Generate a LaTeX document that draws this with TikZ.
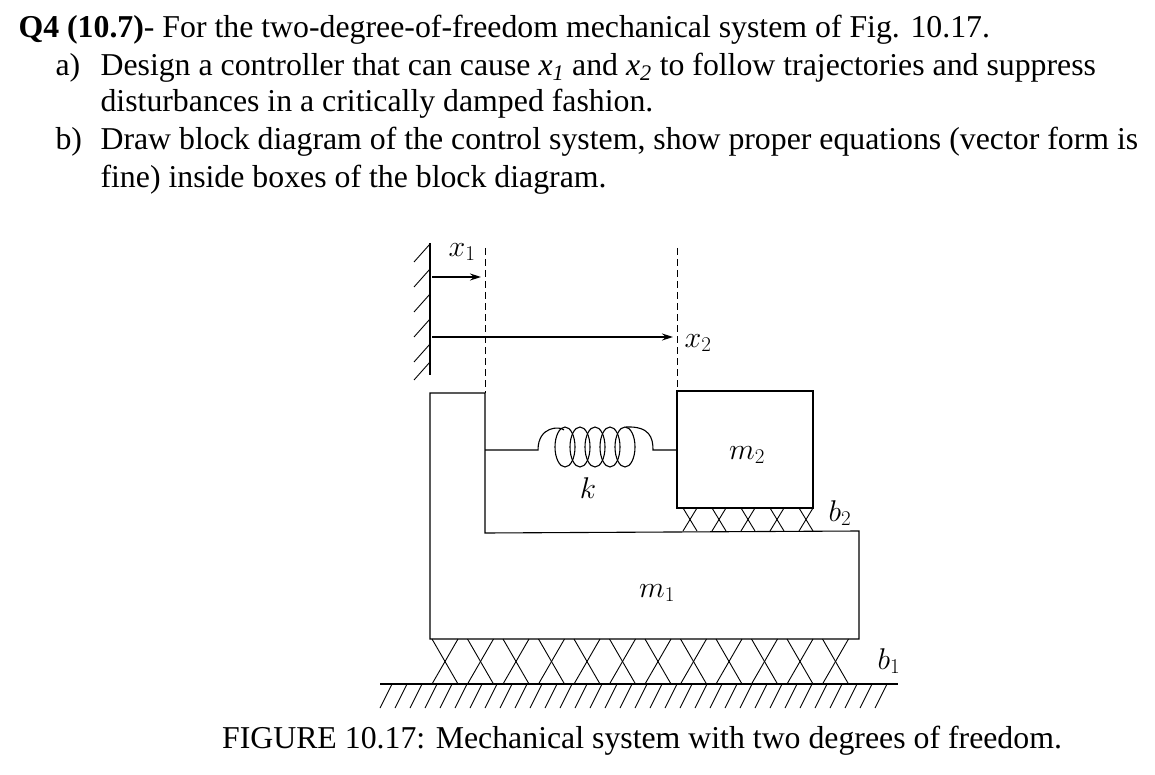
\documentclass[tikz,border=0pt]{standalone}
\usepackage{fix-cm}
\usepackage{fontspec}
\setmainfont{Liberation Serif}
\usetikzlibrary{arrows.meta}
\begin{document}
\begin{tikzpicture}[x=1pt,y=-1pt,line width=1.1pt,
  txt/.style={anchor=west,inner sep=0pt,font=\fontsize{31.8}{36}\selectfont},
  lab/.style={inner sep=0pt,font=\fontsize{30}{34}\selectfont},
  dsh/.style={dashed,dash pattern=on 7pt off 4pt,line width=0.8pt},
  hat/.style={line width=0.9pt}]
\useasboundingbox (0,0) rectangle (1155,775);
\newcommand{\myxi}[1]{\textit{x}\textsubscript{\textit{#1}}}
\node[txt] (l1) at (18,30) {\textbf{Q4 (10.7)}- For the two-degree-of-freedom mechanical system of Fig. 10.17.};
\node[txt] (l2) at (55,68) {a)};
\node[txt] (l2b) at (100,68) {Design a controller that can cause \myxi{1} and \myxi{2} to follow trajectories and suppress};
\node[txt] (l3) at (100,104) {disturbances in a critically damped fashion.};
\node[txt] (l4) at (55,142) {b)};
\node[txt] (l4b) at (100,142) {Draw block diagram of the control system, show proper equations (vector form is};
\node[txt] (l5) at (100,180) {fine) inside boxes of the block diagram.};
% wall
\draw (430,243) -- (430,375);
\foreach \y in {262,287,312,337,362,380} \draw[hat] (430,\y-18) -- (414,\y);
% dashed lines
\draw[dsh] (485,248) -- (485,393);
\draw[dsh] (677,248) -- (677,391);
\coordinate (w1) at (432,277); \coordinate (e1) at (481,277);
\coordinate (w2) at (432,337); \coordinate (e2) at (673,337);
\draw[-{Stealth[length=11pt,width=7pt]},line width=1.4pt] (w1) -- (e1);
\draw[-{Stealth[length=11pt,width=7pt]},line width=1.4pt] (w2) -- (e2);
\node[lab] (x1) at (462,252) {$x_1$};
\node[lab] (x2) at (698,343) {$x_2$};
% m1
\draw (430,393) -- (485,393) -- (485,533) -- (859,531) -- (859,639) -- (430,639) -- cycle;
% m2
\draw (677,391) rectangle (813,508);
% spring
\draw (485,450) -- (538,450) .. controls (538,426) and (560,426) .. (564,430);
\foreach \c in {565,580,595,610,625} {
  \draw (\c,447) ellipse[x radius=10,y radius=20];
}
\draw (626,427) .. controls (650,426) and (653,438) .. (653,450) -- (677,450);
\node[lab] (k) at (588,488) {$k$};
\node[lab] (m2) at (747,455) {$m_2$};
\node[lab] (m1) at (657,593) {$m_1$};
\node[lab] (b2) at (840,513) {$b_2$};
\node[lab] (b1) at (889,661) {$b_1$};
% b2 X's
\foreach \i in {0,...,4} {
  \pgfmathsetmacro{\a}{683+\i*29}
  \draw[hat] (\a,508) -- (\a+14,531); \draw[hat] (\a+14,508) -- (\a,531);
}
% b1 X's
\foreach \i in {0,...,11} {
  \pgfmathsetmacro{\a}{432+\i*35.5}
  \draw[hat] (\a,639) -- (\a+26,684); \draw[hat] (\a+26,639) -- (\a,684);
}
% ground
\draw (380,684) -- (898,684);
\foreach \x in {392,407,...,900} \draw[hat] (\x,684) -- (\x-12,708);
\node[txt,anchor=center] (cap) at (642,741) {FIGURE 10.17: Mechanical system with two degrees of freedom.};
\end{tikzpicture}
\end{document}
